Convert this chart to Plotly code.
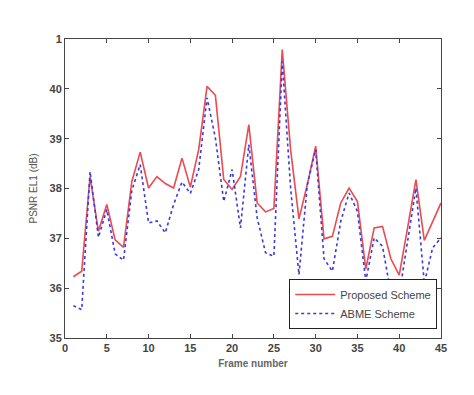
import plotly.graph_objects as go

frames = list(range(1, 46))
proposed = [36.23, 36.34, 38.24, 37.14, 37.68, 36.97, 36.82, 38.14, 38.73, 38.01,
            38.24, 38.10, 38.01, 38.61, 38.03, 38.78, 40.05, 39.87, 38.18, 37.98,
            38.24, 39.28, 37.71, 37.53, 37.60, 40.79, 38.78, 37.39, 38.08, 38.85,
            36.99, 37.04, 37.71, 38.01, 37.74, 36.39, 37.21, 37.24, 36.59, 36.26,
            37.21, 38.18, 36.96, 37.34, 37.71]
abme = [35.65, 35.57, 38.34, 37.02, 37.58, 36.69, 36.56, 37.96, 38.48, 37.31,
        37.35, 37.11, 37.68, 38.13, 37.90, 38.38, 39.82, 39.01, 37.74, 38.38,
        37.21, 38.88, 37.41, 36.71, 36.64, 40.55, 38.01, 36.27, 38.08, 38.78,
        36.59, 36.34, 37.34, 37.91, 37.54, 36.14, 37.01, 36.84, 35.90, 35.87,
        36.94, 38.01, 36.10, 36.81, 37.01]
x_ticks = [0, 5, 10, 15, 20, 25, 30, 35, 40, 45]
y_ticks = [35, 36, 37, 38, 39, 40, 41]
y_ticktext = ["35", "36", "37", "38", "39", "40", "1"]

fig = go.Figure()
fig.add_trace(go.Scatter(x=frames, y=proposed, mode="lines", name="Proposed Scheme",
                         line=dict(color="#ea4a50", width=1.6)))
fig.add_trace(go.Scatter(x=frames, y=abme, mode="lines", name="ABME Scheme",
                         line=dict(color="#3a3ad8", width=1.6, dash="dot")))

axis_common = dict(showgrid=False, zeroline=False, showline=True, linecolor="#444444",
                   linewidth=1, mirror="ticks", ticks="inside", ticklen=4,
                   tickcolor="#444444",
                   tickfont=dict(family="Liberation Sans, Arial", size=11, color="#444444",
                                 weight="bold"))
fig.update_xaxes(range=[0, 45], tickvals=x_ticks, **axis_common,
                 title=dict(text="<b>Frame number</b>", standoff=6,
                            font=dict(family="Liberation Sans, Arial", size=10, color="#666666")))
fig.update_yaxes(range=[35, 41], tickvals=y_ticks, ticktext=y_ticktext, **axis_common,
                 title=dict(text="PSNR EL1 (dB)", standoff=10,
                            font=dict(family="Liberation Sans, Arial", size=10, color="#555555")))

fig.update_layout(
    width=474, height=395,
    margin=dict(l=57, r=41, t=31, b=65),
    paper_bgcolor="white", plot_bgcolor="white",
    showlegend=True,
    legend=dict(x=0.99, y=0.03, xanchor="right", yanchor="bottom",
                bgcolor="white", bordercolor="#222222", borderwidth=1,
                font=dict(family="Liberation Sans, Arial", size=11, color="#444444"),
                tracegroupgap=0, itemwidth=40),
)
fig.write_html("out.html")
